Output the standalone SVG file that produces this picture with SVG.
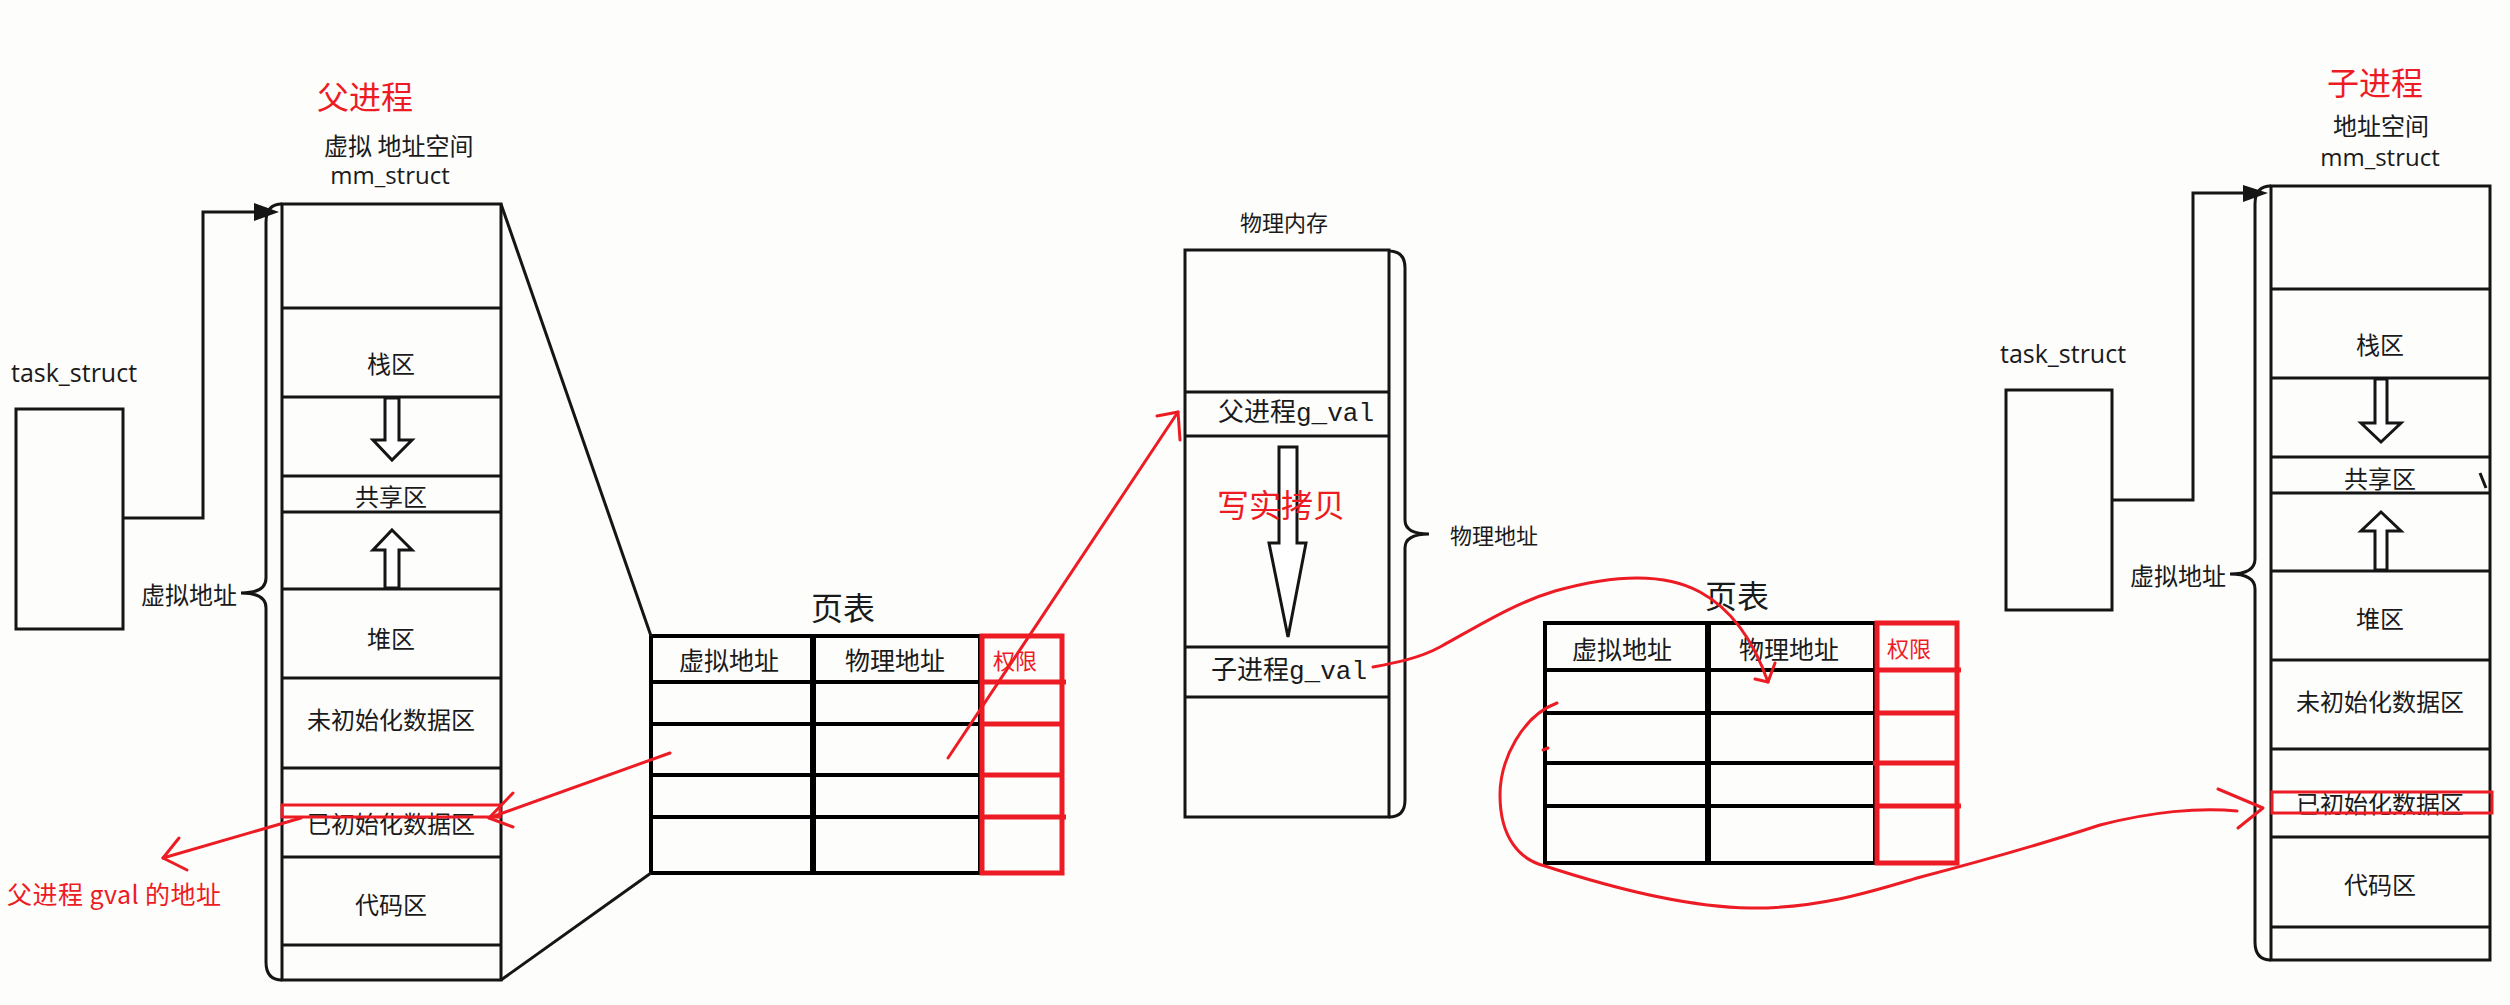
<svg xmlns="http://www.w3.org/2000/svg" width="2510" height="1005" viewBox="0 0 2510 1005">
<style>
.bg{fill:#fdfdfc}
.box{fill:none;stroke:#151515;stroke-width:3}
.ln{fill:none;stroke:#151515;stroke-width:3}
.tbl{fill:none;stroke:#000;stroke-width:4}
.tblv{fill:none;stroke:#000;stroke-width:6}
.hol{fill:#fff;stroke:#151515;stroke-width:3;stroke-linejoin:miter}
.red{fill:none;stroke:#ed1c24;stroke-width:3;stroke-linecap:round;stroke-linejoin:round}
.redbox{fill:none;stroke:#ed1c24;stroke-width:5}
.redrect{fill:none;stroke:#ed1c24;stroke-width:3}
.cj{font-family:"Noto Sans CJK SC","Noto Sans",sans-serif;fill:#1a1a1a}
.la{font-family:"Open Sans","Noto Sans CJK SC",sans-serif;fill:#1a1a1a}
.mo{font-family:"Liberation Mono","Noto Sans CJK SC",monospace;fill:#1a1a1a}
.rt{fill:#ed1c24}
.c{text-anchor:middle;dominant-baseline:central}
.m{dominant-baseline:central}
</style>
<rect class="bg" x="0" y="0" width="2510" height="1005"/>

<!-- Parent process -->
<g id="parent-title">
<text class="cj rt c" x="365" y="95" font-size="32">父进程</text>
<text class="cj m" x="324" y="144" font-size="24">虚拟 地址空间</text>
<text class="la" x="390" y="184" font-size="24" text-anchor="middle">mm_struct</text>
</g>
<g id="parent-task">
<text class="la" x="11" y="382" font-size="25">task_struct</text>
<rect class="box" x="16" y="409" width="107" height="220"/>
</g>
<g id="parent-mm">
<rect class="box" x="282" y="204" width="219" height="776"/>
<line class="ln" x1="282" y1="308" x2="501" y2="308"/>
<line class="ln" x1="282" y1="397" x2="501" y2="397"/>
<line class="ln" x1="282" y1="476" x2="501" y2="476"/>
<line class="ln" x1="282" y1="512" x2="501" y2="512"/>
<line class="ln" x1="282" y1="589" x2="501" y2="589"/>
<line class="ln" x1="282" y1="678" x2="501" y2="678"/>
<line class="ln" x1="282" y1="768" x2="501" y2="768"/>
<line class="ln" x1="282" y1="857" x2="501" y2="857"/>
<line class="ln" x1="282" y1="945" x2="501" y2="945"/>
<text class="cj c" x="391" y="362" font-size="24">栈区</text>
<polygon class="hol" points="385,398 399,398 399,440 412,440 392,460 373,440 385,440"/>
<text class="cj c" x="391" y="495" font-size="24">共享区</text>
<polygon class="hol" points="392,530 412,550 399,550 399,588 385,588 385,550 373,550"/>
<text class="cj c" x="391" y="637" font-size="24">堆区</text>
<text class="cj c" x="391" y="718" font-size="24">未初始化数据区</text>
<text class="cj c" x="391" y="822" font-size="24">已初始化数据区</text>
<rect class="redrect" x="282" y="805" width="218" height="12"/>
<text class="cj c" x="391" y="903" font-size="24">代码区</text>
<path class="ln" d="M282,204 Q266,204 266,222 L266,578 Q266,593 241,593 Q266,593 266,608 L266,962 Q266,980 282,980"/>
<text class="cj m" x="141" y="593" font-size="24">虚拟地址</text>
</g>
<g id="parent-note">
<text class="cj rt m" x="7" y="893" font-size="25" textLength="214" lengthAdjust="spacing">父进程 gval 的地址</text>
</g>

<!-- Parent page table -->
<g id="parent-pagetable">
<text class="cj c" x="843" y="606" font-size="32">页表</text>
<rect class="tbl" x="651" y="636" width="329" height="237"/>
<line class="tblv" x1="813" y1="636" x2="813" y2="873"/>
<line class="tbl" x1="651" y1="682" x2="980" y2="682"/>
<line class="tbl" x1="651" y1="724" x2="980" y2="724"/>
<line class="tbl" x1="651" y1="775" x2="980" y2="775"/>
<line class="tbl" x1="651" y1="817" x2="980" y2="817"/>
<text class="cj c" x="729" y="659" font-size="25">虚拟地址</text>
<text class="cj c" x="895" y="659" font-size="25">物理地址</text>
<rect class="redbox" x="982" y="636" width="80" height="237"/>
<line class="redbox" x1="982" y1="682" x2="1066" y2="682"/>
<line class="redbox" x1="982" y1="724" x2="1062" y2="724"/>
<line class="redbox" x1="982" y1="775" x2="1062" y2="775"/>
<line class="redbox" x1="982" y1="817" x2="1066" y2="817"/>
<text class="cj rt c" x="1015" y="659" font-size="22">权限</text>
</g>

<!-- Physical memory -->
<g id="physical-memory">
<text class="cj c" x="1284" y="221" font-size="22">物理内存</text>
<rect class="box" x="1185" y="250" width="204" height="567"/>
<line class="ln" x1="1185" y1="392" x2="1389" y2="392" stroke-width="2.5"/>
<line class="ln" x1="1185" y1="436" x2="1389" y2="436" stroke-width="2"/>
<line class="ln" x1="1185" y1="647" x2="1389" y2="647" stroke-width="3"/>
<line class="ln" x1="1185" y1="697" x2="1389" y2="697" stroke-width="2"/>
<text class="mo m" x="1218" y="414" font-size="26">父进程g_val</text>
<polygon class="hol" points="1279,447 1297,447 1297,543 1306,543 1288,637 1269,543 1279,543"/>
<text class="cj rt c" x="1281" y="503" font-size="32">写实拷贝</text>
<text class="mo m" x="1211" y="672" font-size="26">子进程g_val</text>
<path class="ln" d="M1389,251 Q1405,251 1405,268 L1405,520 Q1405,534 1429,534 Q1405,534 1405,548 L1405,800 Q1405,817 1389,817"/>
<text class="cj m" x="1450" y="534" font-size="22">物理地址</text>
</g>

<!-- Child page table -->
<g id="child-pagetable">
<text class="cj c" x="1737" y="594" font-size="32">页表</text>
<rect class="tbl" x="1545" y="623" width="330" height="240"/>
<line class="tblv" x1="1708" y1="623" x2="1708" y2="863"/>
<line class="tbl" x1="1545" y1="670" x2="1875" y2="670"/>
<line class="tbl" x1="1545" y1="713" x2="1875" y2="713"/>
<line class="tbl" x1="1545" y1="763" x2="1875" y2="763"/>
<line class="tbl" x1="1545" y1="806" x2="1875" y2="806"/>
<text class="cj c" x="1622" y="648" font-size="25">虚拟地址</text>
<text class="cj c" x="1789" y="648" font-size="25">物理地址</text>
<rect class="redbox" x="1877" y="623" width="80" height="240"/>
<line class="redbox" x1="1877" y1="670" x2="1961" y2="670"/>
<line class="redbox" x1="1877" y1="713" x2="1957" y2="713"/>
<line class="redbox" x1="1873" y1="763" x2="1957" y2="763"/>
<line class="redbox" x1="1877" y1="806" x2="1961" y2="806"/>
<text class="cj rt c" x="1909" y="647" font-size="22">权限</text>
</g>

<!-- Child process -->
<g id="child-title">
<text class="cj rt c" x="2375" y="81" font-size="32">子进程</text>
<text class="cj c" x="2381" y="124" font-size="24">地址空间</text>
<text class="la" x="2380" y="166" font-size="24" text-anchor="middle">mm_struct</text>
</g>
<g id="child-task">
<text class="la" x="2000" y="363" font-size="25">task_struct</text>
<rect class="box" x="2006" y="390" width="106" height="220"/>
</g>
<g id="child-mm">
<rect class="box" x="2271" y="186" width="219" height="774"/>
<line class="ln" x1="2271" y1="289" x2="2490" y2="289"/>
<line class="ln" x1="2271" y1="378" x2="2490" y2="378"/>
<line class="ln" x1="2271" y1="457" x2="2490" y2="457"/>
<line class="ln" x1="2271" y1="493" x2="2490" y2="493"/>
<line class="ln" x1="2271" y1="571" x2="2490" y2="571"/>
<line class="ln" x1="2271" y1="660" x2="2490" y2="660"/>
<line class="ln" x1="2271" y1="749" x2="2490" y2="749"/>
<line class="ln" x1="2271" y1="837" x2="2490" y2="837"/>
<line class="ln" x1="2271" y1="927" x2="2490" y2="927"/>
<text class="cj c" x="2380" y="343" font-size="24">栈区</text>
<polygon class="hol" points="2375,379 2387,379 2387,423 2401,423 2381,442 2361,423 2375,423"/>
<text class="cj c" x="2380" y="477" font-size="24">共享区</text>
<line class="ln" x1="2480" y1="473" x2="2486" y2="488" stroke-width="2"/>
<polygon class="hol" points="2381,512 2401,531 2387,531 2387,570 2375,570 2375,531 2361,531"/>
<text class="cj c" x="2380" y="617" font-size="24">堆区</text>
<text class="cj c" x="2380" y="700" font-size="24">未初始化数据区</text>
<text class="cj c" x="2380" y="802" font-size="24">已初始化数据区</text>
<rect class="redrect" x="2272" y="792" width="220" height="21"/>
<text class="cj c" x="2380" y="883" font-size="24">代码区</text>
<path class="ln" d="M2271,186 Q2255,186 2255,204 L2255,559 Q2255,574 2230,574 Q2255,574 2255,589 L2255,942 Q2255,960 2271,960"/>
<text class="cj m" x="2130" y="574" font-size="24">虚拟地址</text>
</g>

<!-- Connectors -->
<g id="connectors">
<polyline class="ln" points="123,518 203,518 203,212 256,212"/>
<polygon points="254,203 279,212 254,221" fill="#151515"/>
<polyline class="ln" points="2112,500 2193,500 2193,193 2245,193"/>
<polygon points="2243,185 2268,193 2243,202" fill="#151515"/>
<line class="ln" x1="501" y1="204" x2="651" y2="636"/>
<line class="ln" x1="501" y1="980" x2="651" y2="873"/>

<line class="red" x1="301" y1="818" x2="163" y2="858"/>
<polyline class="red" points="179,838 163,858 187,870"/>
<line class="red" x1="670" y1="753" x2="489" y2="818"/>
<polyline class="red" points="513,793 489,818 513,827"/>
<line class="red" x1="948" y1="758" x2="1178" y2="412"/>
<polyline class="red" points="1157,416 1178,412 1180,440"/>
<path class="red" d="M1373,667 C1395,663 1420,658 1440,647 C1480,625 1515,603 1555,591 C1605,577 1660,570 1700,592 C1735,611 1755,645 1768,682"/>
<polyline class="red" points="1755,679 1768,682 1775,663"/>
<path class="red" d="M1557,703 C1522,716 1500,760 1500,795 C1500,838 1520,860 1545,866 C1600,884 1680,907 1750,908 C1820,909 1880,889 1917,878 C1970,864 2030,848 2100,825 C2150,812 2200,807 2237,811"/>
<polyline class="red" points="2218,789 2263,808 2238,828"/>
<line class="red" x1="1543" y1="750" x2="1548" y2="748"/>
</g>
</svg>
